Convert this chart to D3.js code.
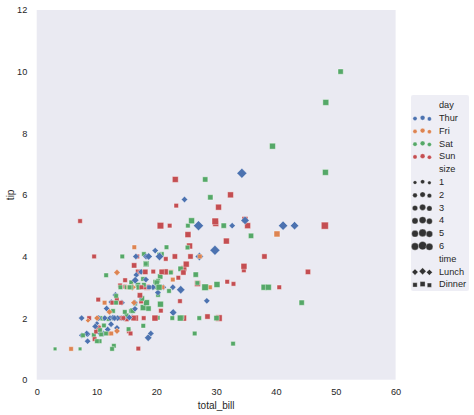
<!DOCTYPE html>
<html><head><meta charset="utf-8">
<script src="https://cdn.jsdelivr.net/npm/d3@7"></script>
<style>html,body{margin:0;padding:0;background:#fff;}svg{display:block;}</style>
</head><body>
<script>
const totalBill=[16.99,10.34,21.01,23.68,24.59,25.29,8.77,26.88,15.04,14.78,10.27,35.26,15.42,18.43,14.83,21.58,10.33,16.29,16.97,20.65,17.92,20.29,15.77,39.42,19.82,17.81,13.37,12.69,21.7,19.65,9.55,18.35,15.06,20.69,17.78,24.06,16.31,16.93,18.69,31.27,16.04,17.46,13.94,9.68,30.4,18.29,22.23,32.4,28.55,18.04,12.54,10.29,34.81,9.94,25.56,19.49,38.01,26.41,11.24,48.27,20.29,13.81,11.02,18.29,17.59,20.08,16.45,3.07,20.23,15.01,12.02,17.07,26.86,25.28,14.73,10.51,17.92,27.2,22.76,17.29,19.44,16.66,10.07,32.68,15.98,34.83,13.03,18.28,24.71,21.16,28.97,22.49,5.75,16.32,22.75,40.17,27.28,12.03,21.01,12.46,11.35,15.38,44.3,22.42,20.92,15.36,20.49,25.21,18.24,14.31,14.0,7.25,38.07,23.95,25.71,17.31,29.93,10.65,12.43,24.08,11.69,13.42,14.26,15.95,12.48,29.8,8.52,14.52,11.38,22.82,19.08,20.27,11.17,12.26,18.26,8.51,10.33,14.15,16.0,13.16,17.47,34.3,41.19,27.05,16.43,8.35,18.64,11.87,9.78,7.51,14.07,13.13,17.26,24.55,19.77,29.85,48.17,25.0,13.39,16.49,21.5,12.66,16.21,13.81,17.51,24.52,20.76,31.71,10.59,10.63,50.81,15.81,7.25,31.85,16.82,32.9,17.89,14.48,9.6,34.63,34.65,23.33,45.35,23.17,40.55,20.69,20.9,30.46,18.15,23.1,15.69,19.81,28.44,15.48,16.58,7.56,10.34,43.11,13.0,13.51,18.71,12.74,13.0,16.4,20.53,16.47,26.59,38.73,24.27,12.76,30.06,25.89,48.33,13.27,28.17,12.9,28.15,11.59,7.74,30.14,12.16,13.42,8.58,15.98,13.42,16.27,10.09,20.45,13.28,22.12,24.01,15.69,11.61,10.77,15.53,10.07,12.6,32.83,35.83,29.03,27.18,22.67,17.82,18.78];
const tip=[1.01,1.66,3.5,3.31,3.61,4.71,2.0,3.12,1.96,3.23,1.71,5.0,1.57,3.0,3.02,3.92,1.67,3.71,3.5,3.35,4.08,2.75,2.23,7.58,3.18,2.34,2.0,2.0,4.3,3.0,1.45,2.5,3.0,2.45,3.27,3.6,2.0,3.07,2.31,5.0,2.24,2.54,3.06,1.32,5.6,3.0,5.0,6.0,2.05,3.0,2.5,2.6,5.2,1.56,4.34,3.51,3.0,1.5,1.76,6.73,3.21,2.0,1.98,3.76,2.64,3.15,2.47,1.0,2.01,2.09,1.97,3.0,3.14,5.0,2.2,1.25,3.08,4.0,3.0,2.71,3.0,3.4,1.83,5.0,2.03,5.17,2.0,4.0,5.85,3.0,3.0,3.5,1.0,4.3,3.25,4.73,4.0,1.5,3.0,1.5,2.5,3.0,2.5,3.48,4.08,1.64,4.06,4.29,3.76,4.0,3.0,1.0,4.0,2.55,4.0,3.5,5.07,1.5,1.8,2.92,2.31,1.68,2.5,2.0,2.52,4.2,1.48,2.0,2.0,2.18,1.5,2.83,1.5,2.0,3.25,1.25,2.0,2.0,2.0,2.75,3.5,6.7,5.0,5.0,2.3,1.5,1.36,1.63,1.73,2.0,2.5,2.0,2.74,2.0,2.0,5.14,5.0,3.75,2.61,2.0,3.5,2.5,2.0,2.0,3.0,3.48,2.24,4.5,1.61,2.0,10.0,3.16,5.15,3.18,4.0,3.11,2.0,2.0,4.0,3.55,3.68,5.65,3.5,6.5,3.0,5.0,3.5,2.0,3.5,4.0,1.5,4.19,2.56,2.02,4.0,1.44,2.0,5.0,2.0,2.0,4.0,2.01,2.0,2.5,4.0,3.23,3.41,3.0,2.03,2.23,2.0,5.16,9.0,2.5,6.5,1.1,3.0,1.5,1.44,3.09,2.2,3.48,1.92,3.0,1.58,2.5,2.0,3.0,2.72,2.88,2.0,3.0,3.39,1.47,3.0,1.25,1.0,1.17,4.67,5.92,2.0,2.0,1.75,3.0];
const day=("Sun Sun Sun Sun Sun Sun Sun Sun Sun Sun Sun Sun Sun Sun Sun Sun Sun Sun Sun "+
"Sat Sat Sat Sat Sat Sat Sat Sat Sat Sat Sat Sat Sat Sat Sat Sat Sat Sat Sat Sat Sat Sat "+
"Sun Sun Sun Sun Sun Sun Sun Sun Sun Sun Sun Sun Sun Sun Sun "+
"Sat Sat Sat Sat Sat Sat Sat Sat Sat Sat Sat Sat Sat Sat Sat Sat Sat Sat Sat Sat Sat "+
"Thur Thur Thur Thur Thur Thur Thur Thur Thur Thur Thur Thur Thur "+
"Fri Fri Fri Fri Fri Fri Fri Fri Fri Fri Fri Fri "+
"Sat Sat Sat Sat Sat Sat Sat Sat Sat Sat "+
"Sun Sun Sun Sun Sun "+
"Thur Thur Thur Thur Thur Thur Thur Thur Thur Thur Thur Thur Thur Thur Thur Thur Thur Thur Thur Thur Thur Thur Thur Thur Thur Thur Thur Thur Thur Thur Thur Thur Thur "+
"Sun Sun Sun Sun Sun Sun Sun Sun Sun Sun Sun Sun Sun Sun Sun Sun Sun Sun "+
"Sat Sat Sat Sat "+
"Sun Sun Sun Sun Sun Sun Sun Sun Sun Sun Sun Sun Sun Sun Sun Sun Sun Sun Sun "+
"Thur Thur Thur Thur Thur Thur Thur Thur Thur Thur Thur Thur Thur Thur Thur "+
"Sat Sat Sat Sat Sat Sat Sat Sat Sat Sat Sat Sat Sat Sat "+
"Fri Fri Fri Fri Fri Fri Fri "+
"Sat Sat Sat Sat Sat Sat Sat Sat Sat Sat Sat Sat Sat Sat Sat Sat "+
"Thur").split(" ");
const time=("D D D D D D D D D D D D D D D D D D D "+
"D D D D D D D D D D D D D D D D D D D D D D "+
"D D D D D D D D D D D D D D D "+
"D D D D D D D D D D D D D D D D D D D D D "+
"L L L L L L L L L L L L L "+
"D D D D D D D D D D D D "+
"D D D D D D D D D D "+
"D D D D D "+
"L L L L L L L L L L L L L L L L L L L L L L L L L L L L L L L L L "+
"D D D D D D D D D D D D D D D D D D "+
"D D D D "+
"D D D D D D D D D D D D D D D D D D D "+
"L L L L L L L L L L L L L L L "+
"D D D D D D D D D D D D D D "+
"L L L L L L L "+
"D D D D D D D D D D D D D D D D "+
"D").split(" ").map(c=>c==="L"?"Lunch":"Dinner");
const size=[2,3,3,2,4,4,2,4,2,2,2,4,2,4,2,2,3,3,3,
3,2,2,2,4,2,4,2,2,2,2,2,4,2,4,2,3,3,3,3,3,3,
2,2,2,4,2,2,4,3,2,2,2,4,2,4,2,
4,2,2,4,2,2,2,4,3,3,2,1,2,2,2,3,2,2,2,2,2,
4,2,2,2,2,1,2,2,4,2,2,2,2,
2,2,2,2,2,4,2,2,2,2,2,2,
3,2,2,2,2,2,2,2,2,1,
3,2,3,2,4,
2,2,4,2,2,2,2,2,6,2,2,2,3,2,2,2,2,2,2,2,2,2,2,2,6,5,6,2,2,3,2,2,2,
2,2,3,4,4,5,6,4,2,4,4,2,3,2,2,3,2,4,
2,2,3,2,
2,2,2,2,2,2,2,2,4,2,3,4,2,5,3,5,3,3,2,
2,2,2,2,2,2,4,2,2,3,2,2,2,4,3,
3,4,2,2,3,4,4,2,3,2,5,2,2,4,
2,2,1,3,2,2,2,
4,2,2,4,3,2,2,2,2,2,2,3,3,2,2,2,
2];
const days=["Thur","Fri","Sat","Sun"];
const sizeLevels=[1,2,3,4,5,6];
const times=["Lunch","Dinner"];
const xTicks=[0,10,20,30,40,50,60];
const yTicks=[0,2,4,6,8,10,12];
const palette=["#4C72B0","#DD8452","#55A868","#C44E52"];

const W=474,H=415,K=0.833;
const L=36.7,R=395.6,T=10,B=379.7;
const FONT="'Liberation Sans', Arial, sans-serif";
const TXT="#262626";

const svg=d3.select("body").append("svg").attr("width",W).attr("height",H).style("font-family",FONT);
const x=d3.scaleLinear().domain([0,60]).range([L,R]);
const y=d3.scaleLinear().domain([0,12]).range([B,T]);
const color=d3.scaleOrdinal().domain(days).range(palette);
const area=d3.scaleLinear().domain([1,6]).range([18,72]);

svg.append("rect").attr("x",L).attr("y",T).attr("width",R-L).attr("height",B-T).attr("fill","#EAEAF2");

function markerPath(shape,s){ // s in pt^2
  const a=Math.sqrt(s)*K;
  if(shape==="Lunch"){const h=a*Math.SQRT2/2;return `M0,${-h}L${h},0L0,${h}L${-h},0Z`;}
  if(shape==="Dinner"){const h=a/2;return `M${-h},${-h}H${h}V${h}H${-h}Z`;}
  const r=a/2;return `M${r},0A${r},${r} 0 1,1 ${-r},0A${r},${r} 0 1,1 ${r},0Z`;
}

const data=totalBill.map((b,i)=>({b,t:tip[i],d:day[i],tm:time[i],s:size[i]}));
svg.append("g").selectAll("path").data(data).join("path")
  .attr("transform",d=>`translate(${x(d.b)},${y(d.t)})`)
  .attr("d",d=>markerPath(d.tm,area(d.s)))
  .attr("fill",d=>color(d.d)).attr("stroke","#fff").attr("stroke-width",0.4);

const xa=svg.append("g").attr("transform",`translate(0,${B})`)
  .call(d3.axisBottom(x).tickValues(xTicks).tickSize(0).tickPadding(8.8).tickFormat(d3.format("d")));
const ya=svg.append("g").attr("transform",`translate(${L},0)`)
  .call(d3.axisLeft(y).tickValues(yTicks).tickSize(0).tickPadding(9.4).tickFormat(d3.format("d")));
[xa,ya].forEach(g=>{g.select(".domain").remove();g.selectAll("text").attr("fill",TXT).style("font-size","9.2px").style("font-family",FONT);});

svg.append("text").attr("x",(L+R)/2).attr("y",408.5).attr("text-anchor","middle").attr("fill",TXT).style("font-size","10px").text("total_bill");
svg.append("text").attr("transform",`translate(13.5,${(T+B)/2}) rotate(-90)`).attr("text-anchor","middle").attr("fill",TXT).style("font-size","10px").text("tip");

// legend
const lg=svg.append("g");
lg.append("rect").attr("x",411).attr("y",95).attr("width",58).attr("height",196).attr("rx",2)
  .attr("fill","#EAEAF2").attr("fill-opacity",0.8);
const rows=[];
rows.push({label:"day",title:true});
days.forEach(d=>rows.push({label:d,shape:"o",fill:color(d),s:30}));
rows.push({label:"size",title:true});
sizeLevels.forEach(v=>rows.push({label:String(v),shape:"o",fill:"#333333",s:area(v)*1.25}));
rows.push({label:"time",title:true});
times.forEach(t=>rows.push({label:t,shape:t,fill:"#333333",s:32}));
const mx=[415,422.6,429.4], mscale=[0.85,1.1,0.8], moff=[0.8,0,1.1];
rows.forEach((r,i)=>{
  const cy=105+i*12.79;
  lg.append("text").attr("x",439).attr("y",cy+3.3).attr("fill",TXT).style("font-size","9.2px").text(r.label);
  if(!r.title){
    mx.forEach((px,j)=>{
      lg.append("path").attr("transform",`translate(${px},${cy+moff[j]})`)
        .attr("d",markerPath(r.shape,r.s*mscale[j])).attr("fill",r.fill).attr("stroke","#fff").attr("stroke-width",0.3);
    });
  }
});
</script>
</body></html>
